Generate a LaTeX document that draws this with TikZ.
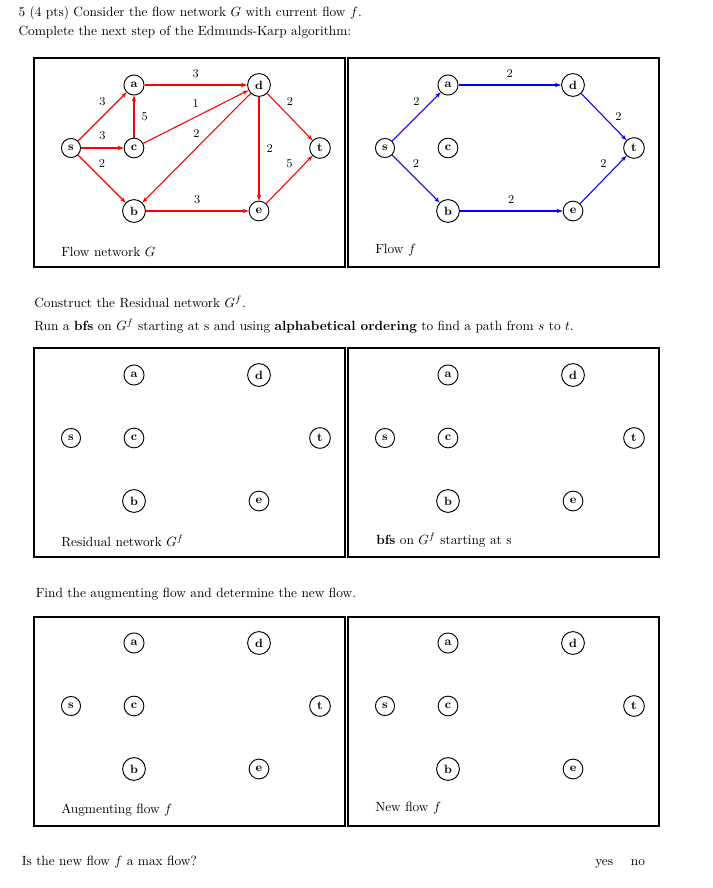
\documentclass[tikz,border=0pt]{standalone}
\usetikzlibrary{arrows.meta}
\tikzset{
  vtx/.style={circle,draw,line width=0.7pt,inner sep=3pt,font=\bfseries\small},
  frame/.style={draw,line width=1.5pt},
  redarc/.style={draw=red,line width=0.8pt,-{Stealth[length=4.5pt,width=3.2pt]}},
  bluearc/.style={draw=blue,line width=0.8pt,-{Stealth[length=4.5pt,width=3.2pt]}},
  lab/.style={font=\small,inner sep=0pt},
  txt/.style={anchor=base west,inner sep=0pt},
}
\newcommand\gnodes[3]{%
  \node[vtx] (#1s) at (#2+37,#3+90) {s};
  \node[vtx] (#1a) at (#2+100,#3+27) {a};
  \node[vtx] (#1c) at (#2+100,#3+90) {c};
  \node[vtx] (#1b) at (#2+100,#3+153) {b};
  \node[vtx] (#1d) at (#2+225,#3+27) {d};
  \node[vtx] (#1e) at (#2+225,#3+153) {e};
  \node[vtx] (#1t) at (#2+286,#3+90) {t};
}
\begin{document}
\begin{tikzpicture}[x=0.75pt,y=-0.75pt]
\useasboundingbox (0,0) rectangle (713,888);

% headings
\node[txt] (h1) at (18.3,17) {5 (4 pts) Consider the flow network $G$ with current flow $f$.};
\node[txt] (h2) at (18.3,36) {Complete the next step of the Edmunds-Karp algorithm:};
\node[txt] (h3) at (34,307) {Construct the Residual network $G^f$.};
\node[txt] (h4) at (34,330) {Run a \textbf{bfs} on $G^f$ starting at s and using \textbf{alphabetical ordering} to find a path from $s$ to $t$.};
\node[txt] (h5) at (35.5,597) {Find the augmenting flow and determine the new flow.};
\node[txt] (h6) at (21.5,865) {Is the new flow $f$ a max flow?};
\node[txt] (yes) at (595,865) {yes};
\node[txt] (no) at (630.7,865) {no};

% frames
\draw[frame] (34,58) rectangle (345,267);
\draw[frame] (348,58) rectangle (659,267);
\draw[frame] (34,348) rectangle (345,557);
\draw[frame] (348,348) rectangle (659,557);
\draw[frame] (34,617) rectangle (345,826);
\draw[frame] (348,617) rectangle (659,826);

% frame captions
\node[txt] (l1) at (61,256) {Flow network $G$};
\node[txt] (l2) at (375,253) {Flow $f$};
\node[txt] (l3) at (61,546) {Residual network $G^f$};
\node[txt] (l4) at (376,544) {\textbf{bfs} on $G^f$ starting at s};
\node[txt] (l5) at (61,813) {Augmenting flow $f$};
\node[txt] (l6) at (375,811) {New flow $f$};

% nodes
\gnodes{g}{34}{58}
\gnodes{f}{348}{58}
\gnodes{r}{34}{348}
\gnodes{q}{348}{348}
\gnodes{u}{34}{616}
\gnodes{n}{348}{616}

% flow network G
\draw[redarc] (gs) -- node[lab,yshift=11.25pt]{3} (ga);
\draw[redarc] (gs) -- node[lab,yshift=9.5pt]{3} (gc);
\draw[redarc] (gs) -- node[lab,yshift=11.8pt]{2} (gb);
\draw[redarc] (gc) -- node[lab,xshift=8pt]{5} (ga);
\draw[redarc] (ga) -- node[lab,yshift=8.8pt]{3} (gd);
\draw[redarc] (gc) -- node[lab,yshift=10pt]{1} (gd);
\draw[redarc] (gd) -- node[lab,yshift=11pt]{2} (gb);
\draw[redarc] (gb) -- node[lab,yshift=8.25pt]{3} (ge);
\draw[redarc] (gd) -- node[lab,yshift=11.25pt]{2} (gt);
\draw[redarc] (gd) -- node[lab,xshift=8pt]{2} (ge);
\draw[redarc] (ge) -- node[lab,yshift=11.8pt]{5} (gt);

% flow f
\draw[bluearc] (fs) -- node[lab,yshift=11.25pt]{2} (fa);
\draw[bluearc] (fs) -- node[lab,yshift=11.8pt]{2} (fb);
\draw[bluearc] (fa) -- node[lab,yshift=8.8pt]{2} (fd);
\draw[bluearc] (fb) -- node[lab,yshift=8.25pt]{2} (fe);
\draw[bluearc] (fd) -- node[lab,xshift=11pt]{2} (ft);
\draw[bluearc] (fe) -- node[lab,yshift=11.8pt]{2} (ft);
\end{tikzpicture}
\end{document}
